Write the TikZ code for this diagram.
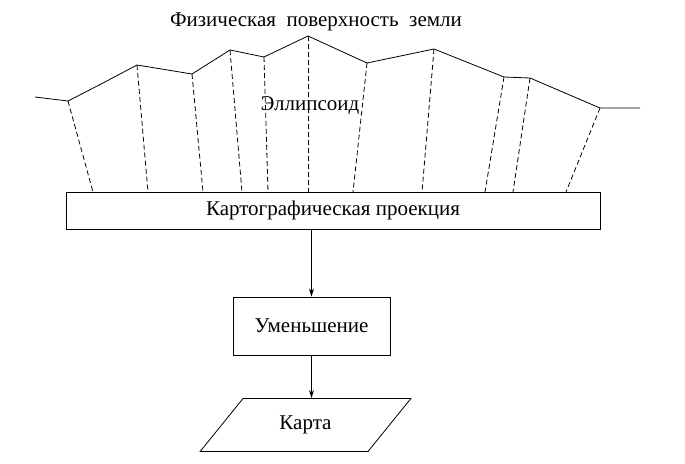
\documentclass[tikz,border=0pt]{standalone}
\usepackage{fontspec}
\setmainfont{Liberation Serif}
\usetikzlibrary{shapes.geometric, arrows.meta, positioning}

\begin{document}
\begin{tikzpicture}[
    x=1pt, y=-1pt, line width=0.8pt,
    lbl/.style={font=\fontsize{21}{24}\selectfont},
    box/.style={draw, rectangle, lbl},
    line/.style={draw, -{Stealth[length=8pt,width=5pt]}},
    meridian/.style={draw, dash pattern=on 5pt off 3pt}
]
    \useasboundingbox (0,0) rectangle (685,463);

    % Terrain
    \draw (35,97) -- (68,101) -- (103,83) -- (137,65) -- (192,74) -- (230,50)
        -- (264,57) -- (308,36) -- (367,63) -- (434,49) -- (504,77) -- (530,78)
        -- (600,108) -- (640,108);
    \node[lbl] (surface) at (316,22) {Физическая\ \ поверхность\ \ земли};
    \node[lbl] (ellipsoid) at (310,106) {Эллипсоид};

    % Projection lines
    \foreach \xa/\ya/\xb in {68/101/93, 137/65/148, 192/74/203, 230/50/242,
        264/57/268, 308/36/308, 367/63/353, 434/49/422, 504/77/485,
        530/78/513, 600/108/566}
        \draw[meridian] (\xa,\ya) -- (\xb,192);

    % Steps
    \node[box, minimum width=534pt, minimum height=37pt] (proj) at (333,210.5) {Картографическая проекция};
    \node[box, minimum width=157pt, minimum height=58pt] (reduce) at (311.5,326) {Уменьшение};
    \node[draw, trapezium, trapezium left angle=51, trapezium right angle=129,
        minimum width=211pt, minimum height=46pt, lbl] (map) at (305.5,425) {Карта};

    \draw[line] (proj.south -| reduce.north) -- (reduce.north);
    \draw[line] (reduce.south) -- (reduce.south |- map.north);
\end{tikzpicture}
\end{document}
